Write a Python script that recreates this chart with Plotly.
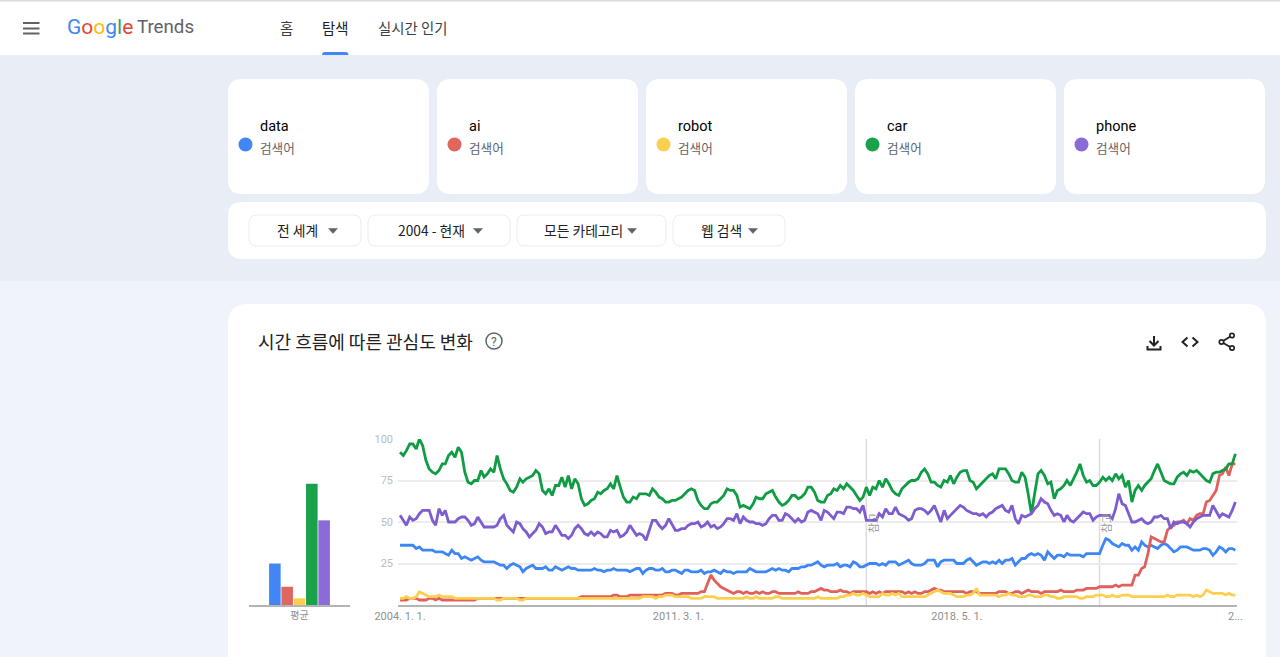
import plotly.graph_objects as go
import pandas as pd

W, H = 1280, 657

terms = ["data", "ai", "robot", "car", "phone"]
averages = [25, 11, 4, 73, 51]
colors = ["#4285f4", "#e06660", "#fbcf4f", "#1aa24a", "#8a6bd8"]
line_colors = ["#3d86f6", "#e0605c", "#fdcf4c", "#109c45", "#7d5cd0"]

data_values = [
    36,36,36,36,36,34,35,33,33,33, 33,32,32,32,31,30,33,31,31,28,
    29,28,27,28,29,27,26,26,26,26, 25,24,24,22,24,25,24,23,20,22,
    23,24,22,22,22,23,21,21,23,22, 21,22,23,22,22,21,21,21,21,21,
    22,21,21,20,21,21,22,21,21,21, 21,20,21,22,22,19,21,22,22,21,
    21,22,20,20,21,21,20,19,21,21, 20,20,20,21,19,20,20,21,20,19,
    21,20,20,19,20,20,20,20,22,21, 20,20,20,20,21,22,21,22,21,21,
    20,22,22,22,
    23,23,24,24,25,26,24,23,24,24, 24,25,23,24,24,23,26,25,23,23,
    24,25,25,25,24,25,24,26,26,26, 24,25,26,27,25,24,24,24,25,27,
    27,27,23,26,27,27,27,27,25,25, 25,27,28,26,24,25,26,26,25,26,
    25,27,25,27,27,28,24,26,28,28, 30,31,30,31,30,27,32,30,28,30,
    30,29,31,30,30,30,30,29,31,31, 31,31,31,36,40,39,37,36,35,37,
    36,36,33,35,33,38,36,35,36,35, 34,36,37,36,34,32,33,35,35,35,
    34,33,33,33,34,34,33,30,32,35, 34,32,34,34,33,
]
ai_values = [
    3,3,3,4,4,4,3,3,3,4, 4,3,4,3,3,3,3,3,3,3,
    3,3,3,3,4,4,4,4,4,4, 4,4,4,4,4,4,4,4,4,4,
    4,4,4,4,4,4,4,4,4,4, 4,4,4,4,4,4,5,5,5,5,
    5,5,5,5,5,5,6,6,5,5, 5,6,6,6,6,6,6,6,6,6,
    6,6,7,7,7,6,6,7,7,7, 7,7,7,8,8,13,18,15,13,11,
    10,9,8,7,8,8,7,8,7,7, 8,7,8,7,7,8,8,7,7,7,
    7,7,7,8,
    7,7,7,8,8,9,10,9,9,8, 8,8,9,8,8,7,8,8,8,8,
    8,7,8,7,8,7,8,8,8,8, 8,8,7,8,7,8,7,7,8,8,
    9,10,9,9,8,8,8,8,8,8, 8,7,8,8,8,7,7,7,7,7,
    7,8,8,8,7,7,8,8,7,8, 9,8,8,8,7,8,8,8,8,8,
    9,8,8,8,8,9,9,9,10,10, 10,10,11,11,11,11,11,12,11,12,
    12,12,12,18,18,22,23,31,41,40, 39,38,38,45,47,48,50,50,51,49,
    52,51,54,55,55,62,63,66,69,78, 79,83,78,85,85,
]
robot_values = [
    4,4,5,4,4,5,8,7,6,5, 5,5,6,5,5,5,5,4,4,4,
    4,4,4,4,4,4,4,4,4,4, 3,3,4,4,4,4,4,3,3,4,
    4,4,4,4,4,4,4,4,4,4, 4,4,4,4,4,4,4,4,4,4,
    4,4,4,4,4,4,4,4,4,4, 4,4,4,4,4,5,5,5,5,4,
    5,5,6,6,6,5,5,5,5,5, 4,4,4,4,5,5,5,5,4,4,
    4,4,4,4,4,4,4,5,4,4, 5,4,4,4,4,4,5,5,4,4,
    4,4,4,4,
    4,4,4,4,4,5,4,4,4,4, 4,4,5,5,6,6,7,6,6,7,
    6,5,5,5,5,7,6,6,7,6, 7,5,5,5,5,5,5,5,5,6,
    7,8,9,8,7,7,7,6,5,5, 5,6,6,7,10,6,6,6,6,6,
    6,5,6,6,7,6,6,5,5,5, 6,6,5,5,5,6,6,5,5,4,
    4,5,5,5,5,5,4,4,5,5, 5,6,6,6,5,5,6,5,5,6,
    6,6,5,5,5,5,5,5,5,5, 5,5,5,6,5,5,6,6,6,6,
    6,5,6,5,6,9,8,7,7,7, 7,6,7,6,6,
]
car_values = [
    92,90,93,97,97,94,100,96,87,82, 80,79,81,85,85,90,92,89,95,92,
    80,74,73,75,75,81,77,79,82,80, 90,82,76,73,69,68,71,76,74,76,
    77,78,81,79,69,67,70,66,72,72, 77,71,78,70,76,73,64,60,61,63,
    64,68,67,69,70,73,70,78,71,65, 62,62,65,64,67,67,67,66,70,68,
    65,64,62,62,63,63,64,65,67,69, 70,69,63,60,58,58,61,62,62,64,
    66,70,69,69,66,59,60,59,58,61, 65,64,64,67,68,69,65,62,60,61,
    63,66,66,64,
    65,67,71,71,68,63,62,62,66,67, 70,69,72,70,73,71,69,66,63,65,
    71,66,71,70,75,71,76,73,69,67, 66,70,72,74,75,75,76,80,82,79,
    74,74,72,71,75,74,78,73,77,80, 81,81,75,74,70,72,74,76,78,79,
    76,82,82,82,79,75,74,74,80,77, 67,55,67,79,81,78,73,74,64,69,
    70,72,75,72,76,80,85,78,74,75, 72,72,74,77,75,77,75,79,76,78,
    71,75,62,69,72,69,72,74,76,81, 85,80,75,74,73,73,77,79,80,78,
    81,80,81,79,77,75,74,79,80,80, 81,82,85,85,91,
]
phone_values = [
    54,51,48,53,51,52,55,57,57,57, 51,48,58,54,57,50,50,50,52,53,
    53,51,48,49,53,50,47,47,47,47, 48,52,54,48,46,44,50,49,46,44,
    41,43,45,49,47,43,44,44,48,45, 42,42,40,42,46,48,46,43,42,44,
    42,44,43,41,41,45,44,45,41,42, 44,48,45,42,43,42,39,45,51,51,
    48,46,48,52,48,45,45,46,46,48, 49,49,50,47,48,50,47,48,46,47,
    49,52,52,51,55,49,53,51,50,50, 49,49,48,49,52,54,54,51,51,55,
    54,52,50,52,
    50,51,56,57,56,55,51,57,56,54, 52,56,56,55,59,59,58,58,56,60,
    51,51,51,51,55,53,58,55,55,59, 55,54,53,51,52,57,58,58,57,55,
    57,60,55,50,57,52,54,56,58,60, 59,57,56,55,55,54,55,53,55,56,
    58,59,60,57,56,60,52,49,54,53, 54,55,58,60,64,62,61,57,54,55,
    54,50,54,51,50,52,54,56,55,55, 51,53,54,54,54,54,52,58,67,61,
    60,55,50,50,51,52,50,49,50,53, 53,54,52,52,46,50,49,50,50,49,
    47,50,52,53,54,54,54,60,56,53, 55,54,53,57,62,
]
series_values = [data_values, ai_values, robot_values, car_values, phone_values]

months = pd.date_range("2004-01-01", periods=259, freq="MS")
tick_dates = ["2004-01-01", "2011-03-01", "2018-05-01", "2025-07-01"]
tick_labels = ["2004. 1. 1.", "2011. 3. 1.", "2018. 5. 1.", "2..."]
note_dates = ["2016-01-01", "2022-01-01"]
y_ticks = [25, 50, 75, 100]
nav_items = [("홈", 286.5, "#3c4043"), ("탐색", 335, "#202124"), ("실시간 인기", 412, "#3c4043")]
filter_items = [("전 세계", 297, 333), ("2004 - 현재", 431, 478), ("모든 카테고리", 583, 632), ("웹 검색", 721, 753)]

KR = "Noto Sans CJK KR, Roboto, sans-serif"
BG_TOP = "#e8edf6"
BG_LOW = "#f0f3f9"


def px(x, y):
    return f"{x / W:.5f},{1 - y / H:.5f}"


def rrect(x0, y0, x1, y1, r):
    return (f"M{px(x0 + r, y0)} L{px(x1 - r, y0)} Q{px(x1, y0)} {px(x1, y0 + r)} "
            f"L{px(x1, y1 - r)} Q{px(x1, y1)} {px(x1 - r, y1)} L{px(x0 + r, y1)} "
            f"Q{px(x0, y1)} {px(x0, y1 - r)} L{px(x0, y0 + r)} Q{px(x0, y0)} {px(x0 + r, y0)} Z")


def card(x0, y0, x1, y1, r, fill="#ffffff", line=None, lw=1):
    return dict(type="path", path=rrect(x0, y0, x1, y1, r), xref="paper", yref="paper",
                fillcolor=fill, line=dict(color=line or fill, width=lw if line else 0), layer="below")


def rect(x0, y0, x1, y1, fill):
    return dict(type="rect", xref="paper", yref="paper", x0=x0 / W, x1=x1 / W,
                y0=1 - y0 / H, y1=1 - y1 / H, fillcolor=fill, line=dict(width=0), layer="below")


def circle(cx, cy, r, fill=None, line=None, lw=1.5):
    return dict(type="circle", xref="paper", yref="paper", x0=(cx - r) / W, x1=(cx + r) / W,
                y0=1 - (cy + r) / H, y1=1 - (cy - r) / H, fillcolor=fill or "rgba(0,0,0,0)",
                line=dict(color=line or fill, width=lw if line else 0), layer="below")


def poly(points, color="#202124", width=2, fill=None, close=False):
    d = "M" + " L".join(px(a, b) for a, b in points) + (" Z" if close else "")
    return dict(type="path", path=d, xref="paper", yref="paper",
                fillcolor=fill or "rgba(0,0,0,0)", line=dict(color=color, width=width), layer="below")


def text(s, x, y, size, color="#202124", anchor="left", family=KR, angle=0):
    return dict(text=s, x=x / W, y=1 - y / H, xref="paper", yref="paper", xanchor=anchor, yanchor="middle",
                showarrow=False, align=anchor, textangle=angle, borderpad=0,
                font=dict(size=size, color=color, family=family))


shapes = [rect(0, 0, W, 281, BG_TOP), rect(0, 281, W, H, BG_LOW), rect(0, 0, W, 55, "#ffffff"),
          rect(0, 0, W, 1.5, "#dcdcdc")]
annotations = []

# header
for yy in (23, 28.5, 33.5):
    shapes.append(poly([(23, yy), (39.5, yy)], "#5f6368", 2))
logo = ("<span style='color:#4285f4'>G</span><span style='color:#ea4335'>o</span>"
        "<span style='color:#fbbc05'>o</span><span style='color:#4285f4'>g</span>"
        "<span style='color:#34a853'>l</span><span style='color:#ea4335'>e</span>")
annotations.append(text(logo, 65.5, 27.5, 21, family="Roboto"))
annotations.append(text("Trends", 136, 27.5, 18.7, "#5f6368", family="Roboto"))
for label, cx, col in nav_items:
    annotations.append(text(label, cx, 27.5, 14.4, col, "center"))
shapes.append(card(322, 52, 348.5, 58, 3, "#4285f4"))
shapes.append(rect(318, 55, 352, 60, BG_TOP))

# term cards
card_lefts = [228, 437, 646, 855, 1064]
for left, term, col in zip(card_lefts, terms, colors):
    shapes.append(card(left, 79, left + 201, 194, 14))
    shapes.append(circle(left + 17.5, 144.5, 7, col))
    annotations.append(text(term, left + 30.5, 126.5, 14.5, "#000000", family="Roboto"))
    annotations.append(text("검색어", left + 30.5, 147.5, 12.6, "#5f6368"))

# filter row
shapes.append(card(228, 202, 1266, 259, 14))
for (x0, x1), (label, cx, tx) in zip([(249, 361), (368, 510), (517, 666), (673, 785)], filter_items):
    shapes.append(card(x0, 215, x1, 246, 8, "#ffffff", "#ececec", 1))
    annotations.append(text(label, cx, 230, 13.8, "#202124", "center"))
    shapes.append(poly([(tx - 4.5, 228.5), (tx + 4.5, 228.5), (tx, 233.5)], "#5f6368", 0.5, "#5f6368", True))

# chart card
shapes.append(card(228, 304, 1266, 700, 20))
annotations.append(text("시간 흐름에 따른 관심도 변화", 256.5, 340.5, 18, "#202124"))
shapes.append(circle(494, 341, 8, None, "#5f6368", 1.5))
annotations.append(text("?", 494, 341.5, 12, "#5f6368", "center", "Roboto"))

# icons
shapes.append(poly([(1154, 336), (1154, 345)]))
shapes.append(poly([(1149.5, 341), (1154, 345.5), (1158.5, 341)]))
shapes.append(poly([(1147.5, 346), (1147.5, 349.5), (1160.5, 349.5), (1160.5, 346)]))
shapes.append(poly([(1187.5, 337.5), (1182.5, 342), (1187.5, 346.5)]))
shapes.append(poly([(1192.5, 337.5), (1197.5, 342), (1192.5, 346.5)]))
shapes.append(poly([(1232, 335.5), (1221.5, 342), (1232, 348)], width=1.8))
for cx, cy in [(1232, 335.5), (1221.5, 342), (1232, 348)]:
    shapes.append(circle(cx, cy, 2.2, "#ffffff", "#202124", 1.7))

# notes on the time axis
for d, xp in zip(note_dates, (873, 1106)):
    shapes.append(dict(type="line", xref="x", yref="y", x0=d, x1=d, y0=0, y1=100,
                       line=dict(color="#dcdcdc", width=1.5), layer="below"))
    annotations.append(text("참고", xp, 523, 11, "#9a9a9a", "center", angle=-90))

fig = go.Figure()
for term, vals, col in zip(terms, series_values, line_colors):
    fig.add_trace(go.Scatter(x=months[:len(vals)], y=vals, mode="lines", name=term, cliponaxis=False,
                             line=dict(color=col, width=2.8, shape="linear"), xaxis="x", yaxis="y"))
fig.add_trace(go.Bar(x=terms, y=averages, marker=dict(color=colors, line=dict(width=0)), width=0.94,
                     xaxis="x2", yaxis="y2"))

domain_y = [1 - 605 / H, 1 - 439 / H]
fig.update_layout(
    template="none",
    width=W, height=H, margin=dict(l=0, r=0, t=0, b=0, pad=0), autosize=False, showlegend=False,
    paper_bgcolor=BG_TOP, plot_bgcolor="rgba(0,0,0,0)",
    shapes=shapes, annotations=annotations, font=dict(family=KR),
    xaxis=dict(domain=[398 / W, 1237 / W], type="date", range=["2003-12-13", "2025-07-16"], automargin=False,
               tickmode="array", tickvals=tick_dates, ticktext=tick_labels, ticks="", showgrid=False,
               zeroline=False, showline=True, linecolor="#b4b4b4", linewidth=1.5,
               tickfont=dict(size=11, color="#8f8f8f", family="Roboto"), anchor="y"),
    yaxis=dict(domain=domain_y, range=[0, 100], tickmode="array", tickvals=y_ticks, ticks="", automargin=False,
               showgrid=True, gridcolor="#ececec", gridwidth=1.5, zeroline=False, showline=False,
               tickfont=dict(size=11, color="#b8bcc4", family="Roboto"), anchor="x", ticklabelstandoff=4),
    xaxis2=dict(domain=[249 / W, 350 / W], type="category", range=[-2.1, 6.1], automargin=False,
                categoryorder="array", categoryarray=terms,
                tickmode="array", tickvals=["robot"], ticktext=["평균"], ticks="", showgrid=False,
                zeroline=False, showline=True, linecolor="#b4b4b4", linewidth=1.5,
                tickfont=dict(size=10, color="#8f8f8f"), anchor="y2"),
    yaxis2=dict(domain=domain_y, range=[0, 100], visible=False, anchor="x2", automargin=False),
    hovermode=False,
)

fig.write_html("out.html", config=dict(displayModeBar=False),
               post_script="document.body.style.margin='0';document.body.style.overflow='hidden';")
